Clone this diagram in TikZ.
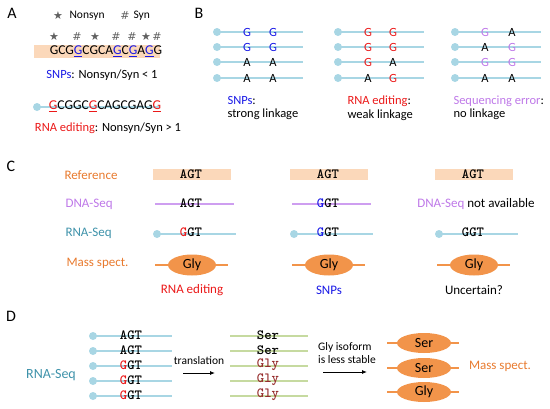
\documentclass[tikz,border=0pt]{standalone}
\usepackage{fontspec}
\setmainfont{Carlito}
\newfontfamily\symfont{DejaVu Sans}
\usetikzlibrary{arrows.meta,shapes.geometric}

\definecolor{readblue}{RGB}{168,214,228}
\definecolor{dnaline}{RGB}{206,158,240}
\definecolor{dnatext}{RGB}{190,120,232}
\definecolor{refpeach}{RGB}{251,216,186}
\definecolor{massfill}{RGB}{242,148,74}
\definecolor{masstext}{RGB}{232,122,46}
\definecolor{rnatext}{RGB}{62,146,170}
\definecolor{protline}{RGB}{198,218,160}
\definecolor{snpblue}{RGB}{25,25,230}
\definecolor{editred}{RGB}{235,25,25}
\definecolor{glyred}{RGB}{150,45,45}

\begin{document}
\begin{tikzpicture}[x=1pt,y=-1pt,
  panel/.style={font=\fontsize{16}{16}\selectfont},
  txt/.style={font=\fontsize{12.5}{13.5}\selectfont},
  small/.style={font=\fontsize{11.5}{13}\selectfont},
  rowlab/.style={font=\fontsize{13}{14}\selectfont},
  mono/.style={font=\ttfamily\bfseries\fontsize{14}{14}\selectfont},
  read/.style={draw=readblue,line width=2.4pt},
  dnaread/.style={draw=dnaline,line width=2.4pt},
  protread/.style={draw=protline,line width=2.4pt},
  massline/.style={draw=massfill,line width=2pt},
  protein/.style={ellipse,fill=massfill,minimum width=48pt,minimum height=21pt,inner sep=0pt,
    font=\fontsize{14}{14}\selectfont},
  sitemark/.style={text=gray!75!black,font=\symfont\fontsize{11}{11}\selectfont}]
\useasboundingbox (0,0) rectangle (550,408);

% Panel A
\node[panel] (labA) at (12,13) {A};
\node[sitemark] (starKey) at (58,16) {★};
\node[small,anchor=west] (nonsynKey) at (66,16) {Nonsyn};
\node[sitemark] (hashKey) at (125,16) {\#};
\node[small,anchor=west] (synKey) at (130,16) {Syn};
\foreach \x/\m [count=\i] in {54/★,77/\#,95/★,116/\#,132/\#,146/★,157/\#}
  \node[sitemark] (siteA\i) at (\x,37) {\m};
\fill[refpeach] (34,45) rectangle (160,58);
\node[font=\fontsize{13.5}{14}\selectfont] (refA) at (106,51)
  {GCG\textcolor{snpblue}{\underline{G}}CGCA\textcolor{snpblue}{\underline{G}}C\textcolor{snpblue}{\underline{G}}A\textcolor{snpblue}{\underline{G}}G};
\node[txt] (snpA) at (102,75) {\textcolor{snpblue}{SNPs}: Nonsyn/Syn < 1};
\draw[read] (37,107) -- (160,107);
\fill[readblue] (37,107) circle (4);
\node[font=\fontsize{13.5}{14}\selectfont] (rnaA) at (105,106)
  {\textcolor{editred}{\underline{G}}CGGC\textcolor{editred}{\underline{G}}CAGCGAG\textcolor{editred}{\underline{G}}};
\node[txt] (editA) at (108,128) {\textcolor{editred}{RNA editing}: Nonsyn/Syn > 1};

% Panel B
\node[panel] (labB) at (199,13) {B};
\foreach \x in {217,338,455}
  \foreach \y in {32,47,62,78} {
    \draw[read] (\x,\y) -- (\x+86,\y);
    \fill[readblue] (\x,\y) circle (4);
  }
\foreach \y/\a/\b [count=\i] in {32/\textcolor{snpblue}{G}/\textcolor{snpblue}{G},
    47/\textcolor{snpblue}{G}/\textcolor{snpblue}{G},62/A/A,78/A/A} {
  \node[txt] (snpL\i) at (247,\y) {\a};
  \node[txt] (snpR\i) at (273,\y) {\b};
}
\foreach \y/\a/\b [count=\i] in {32/\textcolor{editred}{G}/\textcolor{editred}{G},
    47/\textcolor{editred}{G}/\textcolor{editred}{G},62/\textcolor{editred}{G}/A,78/A/\textcolor{editred}{G}} {
  \node[txt] (editL\i) at (368,\y) {\a};
  \node[txt] (editR\i) at (393,\y) {\b};
}
\foreach \y/\a/\b [count=\i] in {32/\textcolor{dnatext}{G}/A,47/A/\textcolor{dnatext}{G},
    62/\textcolor{dnatext}{G}/\textcolor{dnatext}{G},78/A/A} {
  \node[txt] (errL\i) at (485,\y) {\a};
  \node[txt] (errR\i) at (512,\y) {\b};
}
\node[txt,anchor=west,align=left] (snpB) at (224,108)
  {\textcolor{snpblue}{SNPs}:\\strong linkage};
\node[txt,anchor=west,align=left] (editB) at (344,108)
  {\textcolor{editred}{RNA editing}:\\weak linkage};
\node[txt,anchor=west,align=left] (errB) at (450,108)
  {\textcolor{dnatext}{Sequencing error}:\\no linkage};

% Panel C
\node[panel] (labC) at (11,166) {C};
\node[rowlab,text=masstext,anchor=west] (refC) at (61,175) {Reference};
\node[rowlab,text=dnatext,anchor=west] (dnaC) at (62,204) {DNA-Seq};
\node[rowlab,text=rnatext,anchor=west] (rnaC) at (62,233) {RNA-Seq};
\node[rowlab,text=masstext,anchor=west] (massC) at (63,263) {Mass spect.};
\foreach \x/\r/\c [count=\i] in
    {192/\textcolor{editred}{G}GT/\textcolor{editred}{RNA editing},
     329/\textcolor{snpblue}{G}GT/\textcolor{snpblue}{SNPs},
     474/GGT/Uncertain?} {
  \fill[refpeach] (\x-39,169) rectangle (\x+39,180);
  \node[mono] (refSeq\i) at (\x-1,174) {AGT};
  \draw[read] (\x-35,234) -- (\x+44,234);
  \fill[readblue] (\x-35,234) circle (4);
  \node[mono] (rnaSeq\i) at (\x-1,232) {\r};
  \draw[massline] (\x-37,265) -- (\x+36,265);
  \node[protein] (prot\i) at (\x,265) {Gly};
  \node[rowlab] (call\i) at (\x,290) {\c};
}
\draw[dnaread] (155,204) -- (234,204);
\node[mono] (dnaSeq1) at (191,203) {AGT};
\draw[dnaread] (292,204) -- (371,204);
\node[mono] (dnaSeq2) at (328,203) {\textcolor{snpblue}{G}GT};
\node[rowlab] (dnaNA) at (476,204) {\textcolor{dnatext}{DNA-Seq} not available};

% Panel D
\node[panel] (labD) at (11,316) {D};
\node[font=\fontsize{14}{14}\selectfont,text=rnatext] (rnaD) at (51,375) {RNA-Seq};
\foreach \y/\s/\q [count=\i] in {336/AGT/Ser,351/AGT/Ser,366/\textcolor{editred}{G}GT/\textcolor{glyred}{Gly},
    381/\textcolor{editred}{G}GT/\textcolor{glyred}{Gly},396/\textcolor{editred}{G}GT/\textcolor{glyred}{Gly}} {
  \draw[read] (93,\y) -- (172,\y);
  \fill[readblue] (93,\y) circle (4);
  \node[mono] (readD\i) at (131,\y-1) {\s};
  \draw[protread] (230,\y) -- (308,\y);
  \node[mono] (pepD\i) at (268,\y-1) {\q};
}
\node[small] (transl) at (199,361) {translation};
\coordinate (trS) at (183,373);
\coordinate (trE) at (215,373);
\draw[-{Latex[length=5pt,width=4pt]},thick] (trS) -- (trE);
\node[small,align=left] (unstable) at (347,353) {Gly isoform\\is less stable};
\coordinate (stS) at (323,372);
\coordinate (stE) at (367,372);
\draw[-{Latex[length=5pt,width=4pt]},thick] (stS) -- (stE);
\foreach \y/\p [count=\i] in {343/Ser,368/Ser,392/Gly} {
  \draw[massline] (387,\y) -- (459,\y);
  \node[protein,minimum width=54pt,minimum height=20pt] (protD\i) at (424,\y) {\p};
}
\node[font=\fontsize{13}{14}\selectfont,text=masstext] (massD) at (500,366) {Mass spect.};

\end{tikzpicture}
\end{document}
